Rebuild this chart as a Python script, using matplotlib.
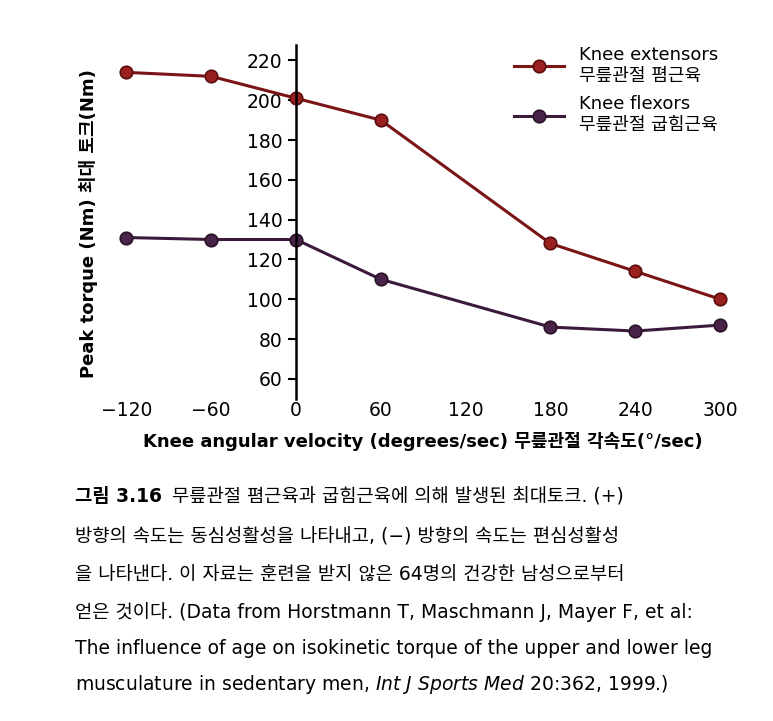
import matplotlib
matplotlib.use('Agg')
import matplotlib.pyplot as plt
from matplotlib import font_manager

# data
velocity = [-120, -60, 0, 60, 180, 240, 300]
extensors = [214, 212, 201, 190, 128, 114, 100]
flexors = [131, 130, 130, 110, 86, 84, 87]
x_ticks = [-120, -60, 0, 60, 120, 180, 240, 300]
x_labels = ['\u2212120', '\u221260', '0', '60', '120', '180', '240', '300']
y_ticks = [60, 80, 100, 120, 140, 160, 180, 200, 220]

# pick whatever CJK family is actually registered
names = {f.name for f in font_manager.fontManager.ttflist}
cjk = [n for n in ['Noto Sans CJK KR', 'Noto Sans CJK JP', 'Noto Sans CJK SC',
                   'Noto Sans CJK TC'] if n in names]
plt.rcParams['font.family'] = ['DejaVu Sans'] + cjk + ['sans-serif']

ext_color = '#7a1416'
flx_color = '#3b1a3c'

fig = plt.figure(figsize=(7.73, 7.21), dpi=100)
ax = fig.add_axes([0.145, 0.447, 0.805, 0.483])

ax.plot(velocity, extensors, color=ext_color, lw=2.2, marker='o', ms=9,
        mfc='#9a1f1f', mec='#5a0e10', mew=1.2, label='Knee extensors\n무릎관절 폄근육')
ax.plot(velocity, flexors, color=flx_color, lw=2.2, marker='o', ms=9,
        mfc='#4a2448', mec='#2a1028', mew=1.2, label='Knee flexors\n무릎관절 굽힘근육')

ax.set_xlim(-130, 310)
ax.set_ylim(50, 225)
ax.spines['left'].set_position(('data', 0))
ax.spines['left'].set_bounds(50, 228)
ax.spines['left'].set_linewidth(1.8)
for s in ['top', 'right', 'bottom']:
    ax.spines[s].set_visible(False)
ax.set_yticks(y_ticks)
ax.set_yticklabels([str(v) for v in y_ticks], fontsize=13.5)
ax.tick_params(axis='y', length=6, width=1.5)
ax.set_xticks(x_ticks)
ax.set_xticklabels(x_labels, fontsize=13.5)
ax.tick_params(axis='x', length=0, pad=2)

ax.set_xlabel('Knee angular velocity (degrees/sec) 무릎관절 각속도(°/sec)',
              fontsize=13, fontweight='bold', labelpad=8)
fig.text(0.115, 0.69, 'Peak torque (Nm) 최대 토크(Nm)', rotation=90, ha='center', va='center',
         fontsize=13, fontweight='bold')

ax.legend(loc='upper right', bbox_to_anchor=(1.0, 1.06), frameon=False,
          prop={'size': 13}, handlelength=2.8, labelspacing=0.6)

caption = [
    ('그림 3.16', ' 무릎관절 폄근육과 굽힘근육에 의해 발생된 최대토크. (+)'),
    ('', '방향의 속도는 동심성활성을 나타내고, (−) 방향의 속도는 편심성활성'),
    ('', '을 나타낸다. 이 자료는 훈련을 받지 않은 64명의 건강한 남성으로부터'),
    ('', '얻은 것이다. (Data from Horstmann T, Maschmann J, Mayer F, et al:'),
    ('', 'The influence of age on isokinetic torque of the upper and lower leg'),
    ('', 'musculature in sedentary men, $\\it{Int\\ J\\ Sports\\ Med}$ 20:362, 1999.)'),
]
ys = [497, 537, 575, 612, 648, 684]
for (bold, rest), y in zip(caption, ys):
    yf = 1 - y / 721
    if bold:
        fig.text(0.097, yf, bold, fontsize=13.5, fontweight='bold', va='center')
        fig.text(0.215, yf, rest, fontsize=13.5, va='center')
    else:
        fig.text(0.097, yf, rest, fontsize=13.5, va='center')

plt.savefig('out.png', dpi=100, facecolor='white')
plt.close()
